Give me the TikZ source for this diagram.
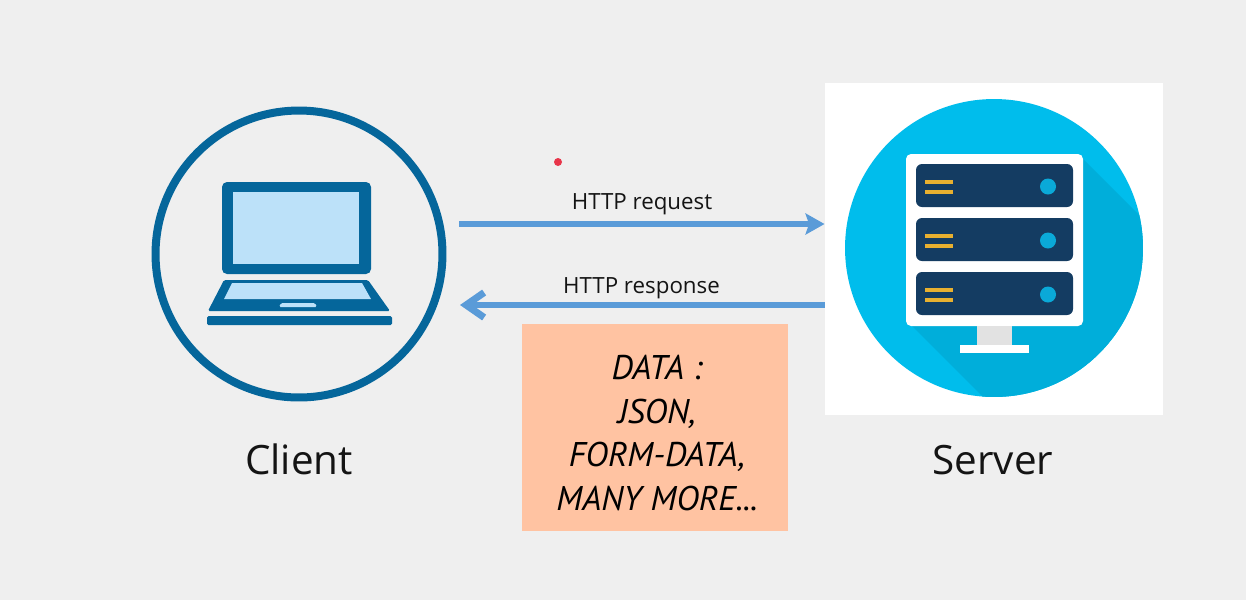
\documentclass[tikz,border=0pt]{standalone}
\usepackage{fontspec}
\setmainfont{Open Sans}
\newfontfamily\datafont{PT Sans}
\usetikzlibrary{arrows.meta}

\definecolor{pagebg}{HTML}{EFEFEF}
\definecolor{clientblue}{HTML}{05669B}
\definecolor{screenblue}{HTML}{BCE1F9}
\definecolor{discblue}{HTML}{00BDEC}
\definecolor{shadeblue}{HTML}{00AEDA}
\definecolor{rackblue}{HTML}{143C62}
\definecolor{ledblue}{HTML}{0AA9D8}
\definecolor{lineyellow}{HTML}{E8B030}
\definecolor{standgray}{HTML}{E2E2E2}
\definecolor{arrowblue}{HTML}{5A9BD8}
\definecolor{dataorange}{HTML}{FFC3A2}
\definecolor{dotred}{HTML}{E8354A}

\tikzset{
    httparrow/.style={draw=arrowblue, line width=0.13cm},
    httplabel/.style={anchor=base, font=\fontsize{12.7}{16}\selectfont, text=black!92},
    iconlabel/.style={anchor=base, font=\fontsize{23}{28}\selectfont, text=black!92}
}

\begin{document}
\begin{tikzpicture}[x=0.02cm, y=-0.02cm]
    % Background, same size as the screenshot
    \fill[pagebg] (0,0) rectangle (1246,600);
    \useasboundingbox (0,0) rectangle (1246,600);

    % Client side
    \node[circle, draw=clientblue, line width=0.16cm, minimum size=5.74cm, inner sep=0pt] (client) at (299,254) {};
    \fill[clientblue, rounded corners=0.1cm] (222,182) rectangle (371,274);
    \fill[screenblue] (233,192) rectangle (359,264);
    \fill[clientblue, rounded corners=0.03cm] (224,280) -- (368,280) -- (390,311) -- (208,311) -- cycle;
    \fill[screenblue] (232,283) -- (362,283) -- (371,299) -- (224,299) -- cycle;
    \fill[screenblue, rounded corners=0.03cm] (281,303) -- (315,303) -- (317,307) -- (279,307) -- cycle;
    \fill[clientblue, rounded corners=0.03cm] (207,316) rectangle (392,325);
    \node[iconlabel] (clientlabel) at (299,474) {Client};

    % Server side
    \node[fill=white, minimum width=6.78cm, minimum height=6.64cm, outer sep=0pt] (server) at (994,249) {};
    \fill[discblue] (994,248) circle (2.98cm);
    \begin{scope}
        \clip (994,248) circle (2.98cm);
        \fill[shadeblue] (1083,159) -- (1283,359) -- (1112,526) -- (912,326) -- cycle;
    \end{scope}
    \fill[white, rounded corners=0.1cm] (906,154) rectangle (1083,326);
    \fill[standgray] (977,326) rectangle (1012,345);
    \fill[white] (960,345) rectangle (1029,353);
    \foreach \y in {164,218,272} {
        \fill[rackblue, rounded corners=0.12cm] (916,\y) rectangle (1073,\y+43);
        \fill[lineyellow] (925,\y+16) rectangle (953,\y+20);
        \fill[lineyellow] (925,\y+25.5) rectangle (953,\y+29.5);
        \fill[ledblue] (1048,\y+22.5) circle (0.16cm);
    }
    \node[iconlabel] (serverlabel) at (993,474) {Server};

    % Arrows between the two
    \coordinate (reqstart) at (459,224);
    \coordinate (respend) at (460,305);
    \draw[httparrow, -{Stealth[length=0.38cm, width=0.42cm, inset=0.07cm]}] (reqstart) -- (reqstart -| server.west);
    \draw[httparrow, -{Straight Barb[length=0.36cm, width=0.5cm, line width=0.14cm]}] (respend -| server.west) -- (respend);
    \node[httplabel] (reqlabel) at (642,209) {HTTP request};
    \node[httplabel] (resplabel) at (641.5,293) {HTTP response};

    % Red pointer
    \fill[dotred] (558,162) circle (0.08cm);

    % Data box
    \node[fill=dataorange, minimum width=5.32cm, minimum height=4.14cm, outer sep=0pt] (databox) at (655,427.5) {};
    \node[align=center, font=\datafont\itshape\fontsize{19.5}{25}\selectfont, text=black] (datalabel) at (657,433) {DATA :\\JSON,\\FORM-DATA,\\MANY MORE...};
\end{tikzpicture}
\end{document}
